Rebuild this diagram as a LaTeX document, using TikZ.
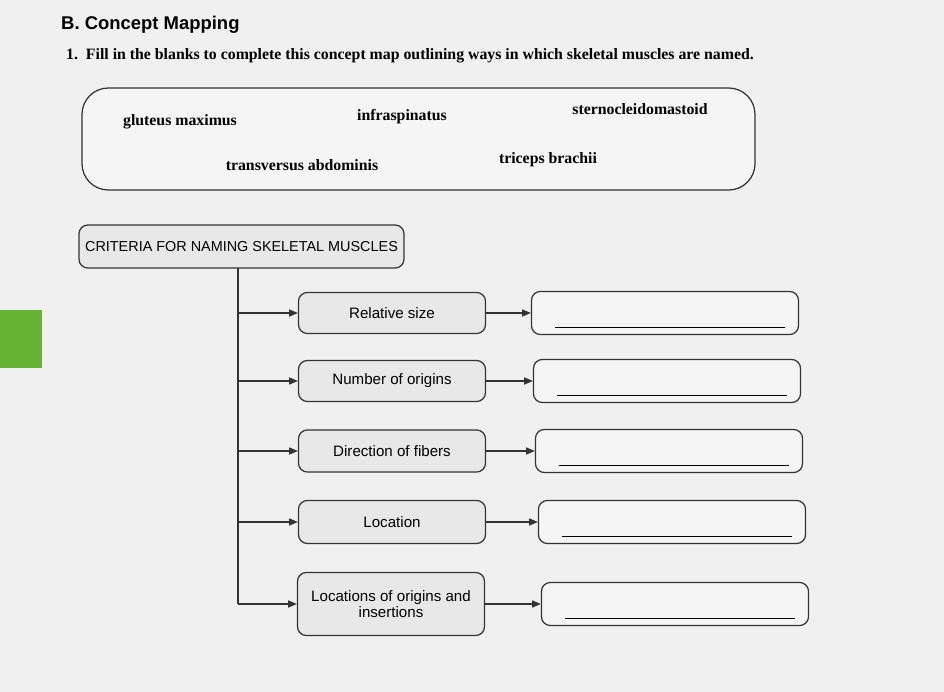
\documentclass[tikz,border=0pt]{standalone}
\usepackage{fontspec}
\setmainfont{Liberation Serif}
\setsansfont{Liberation Sans}
\usetikzlibrary{arrows.meta}
\begin{document}
\begin{tikzpicture}[x=0.02cm,y=-0.02cm,
  box/.style={draw=black!80,rounded corners=5pt,fill=black!9,line width=0.7pt,inner sep=1pt},
  lbl/.style={font=\sffamily\fontsize{8.6}{9.5}\selectfont,align=center},
  word/.style={font=\bfseries\fontsize{9}{11}\selectfont},
  arr/.style={-{Triangle[length=5pt,width=4pt]},line width=0.8pt,draw=black!80}]
\fill[black!6] (0,0) rectangle (944,692);
\useasboundingbox (0,0) rectangle (944,692);
\node[anchor=west,font=\sffamily\bfseries\fontsize{10.5}{12}\selectfont] (title) at (55,25) {B. Concept Mapping};
\node[anchor=west,font=\bfseries\fontsize{9}{11}\selectfont] (q) at (60,56) {1.\ \ Fill in the blanks to complete this concept map outlining ways in which skeletal muscles are named.};
\draw[box,fill=black!4,rounded corners=15pt] (82,88) rectangle (755,190);
\node[word] (w1) at (180,122) {gluteus maximus};
\node[word] (w2) at (402,117) {infraspinatus};
\node[word] (w3) at (640,109) {sternocleidomastoid};
\node[word] (w4) at (302,165) {transversus abdominis};
\node[word] (w5) at (548,160) {triceps brachii};
\fill[green!50!black!75!yellow!80] (0,310) rectangle (42,368);
\node[box,lbl,font=\sffamily\fontsize{8.2}{9}\selectfont,minimum width=325*0.02cm,minimum height=43*0.02cm] (crit) at (241.5,246.5) {CRITERIA FOR NAMING SKELETAL MUSCLES};
\coordinate (top) at (238,268);
\foreach \n/\y/\x/\t/\h/\ax in {1/313/392/Relative size/41/665, 2/381/392/Number of origins/41/667, 3/451/392/Direction of fibers/42/669, 4/522/392/Location/43/672, 5/604/391/{Locations of origins and\\insertions}/63/675}{
  \node[box,lbl,minimum width=187*0.02cm,minimum height=\h*0.02cm] (c\n) at (\x,\y) {\t};
  \node[box,fill=black!4,minimum width=267*0.02cm,minimum height=43*0.02cm] (a\n) at (\ax,\y) {};
  \draw[line width=0.6pt] ([xshift=14pt,yshift=-8pt]a\n.west) -- ([xshift=-8pt,yshift=-8pt]a\n.east);
  \draw[arr] (238,\y) -- (c\n.west);
  \draw[arr] (c\n.east) -- (a\n.west);
}
\draw[line width=0.8pt,draw=black!80] (top) -- (238,604);
\end{tikzpicture}
\end{document}
